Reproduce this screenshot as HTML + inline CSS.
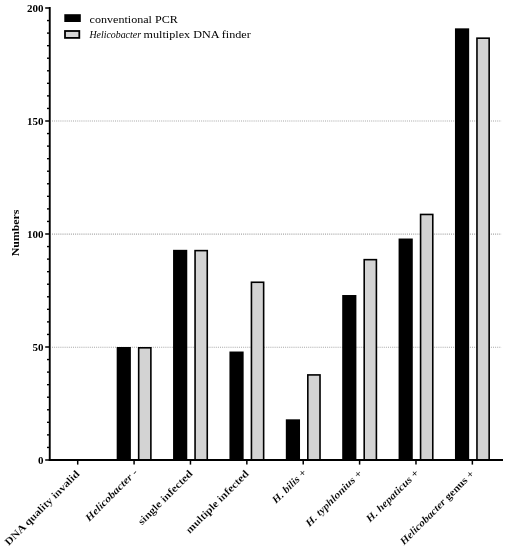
<!DOCTYPE html>
<html><head><meta charset="utf-8"><style>
html,body{margin:0;padding:0;background:#fff;width:509px;height:550px;overflow:hidden}
svg{display:block}
text{font-family:"Liberation Serif",serif;fill:#000}
.b{font-weight:bold;font-size:11px}
.l{font-size:11px}
.xl{font-weight:bold;font-size:10.4px;stroke:#fff;stroke-width:0.1px}
</style></head><body>
<svg width="509" height="550" viewBox="0 0 509 550">
<rect width="509" height="550" fill="#fff"/>
<line x1="52" y1="347.20" x2="501.5" y2="347.20" stroke="#a6a6a6" stroke-width="1.1" stroke-dasharray="1 1.1"/>
<line x1="52" y1="234.10" x2="501.5" y2="234.10" stroke="#a6a6a6" stroke-width="1.1" stroke-dasharray="1 1.1"/>
<line x1="52" y1="120.95" x2="501.5" y2="120.95" stroke="#a6a6a6" stroke-width="1.1" stroke-dasharray="1 1.1"/>
<rect x="116.68" y="347.00" width="14.20" height="113.00" fill="#000"/>
<rect x="138.68" y="347.80" width="12.20" height="112.20" fill="#d3d3d3" stroke="#000" stroke-width="1.6"/>
<rect x="173.06" y="249.82" width="14.20" height="210.18" fill="#000"/>
<rect x="195.06" y="250.62" width="12.20" height="209.38" fill="#d3d3d3" stroke="#000" stroke-width="1.6"/>
<rect x="229.44" y="351.52" width="14.20" height="108.48" fill="#000"/>
<rect x="251.44" y="282.26" width="12.20" height="177.74" fill="#d3d3d3" stroke="#000" stroke-width="1.6"/>
<rect x="285.82" y="419.32" width="14.20" height="40.68" fill="#000"/>
<rect x="307.82" y="374.92" width="12.20" height="85.08" fill="#d3d3d3" stroke="#000" stroke-width="1.6"/>
<rect x="342.20" y="295.02" width="14.20" height="164.98" fill="#000"/>
<rect x="364.20" y="259.66" width="12.20" height="200.34" fill="#d3d3d3" stroke="#000" stroke-width="1.6"/>
<rect x="398.58" y="238.52" width="14.20" height="221.48" fill="#000"/>
<rect x="420.58" y="214.46" width="12.20" height="245.54" fill="#d3d3d3" stroke="#000" stroke-width="1.6"/>
<rect x="454.96" y="28.34" width="14.20" height="431.66" fill="#000"/>
<rect x="476.96" y="38.18" width="12.20" height="421.82" fill="#d3d3d3" stroke="#000" stroke-width="1.6"/>
<line x1="49.75" y1="7.10" x2="49.75" y2="460.95" stroke="#000" stroke-width="1.9"/>
<line x1="48.80" y1="460.00" x2="503" y2="460.00" stroke="#000" stroke-width="1.9"/>
<line x1="45.2" y1="8.00" x2="49.75" y2="8.00" stroke="#000" stroke-width="1.5"/>
<line x1="47.0" y1="20.56" x2="49.75" y2="20.56" stroke="#000" stroke-width="1.4"/>
<line x1="47.0" y1="33.11" x2="49.75" y2="33.11" stroke="#000" stroke-width="1.4"/>
<line x1="47.0" y1="45.67" x2="49.75" y2="45.67" stroke="#000" stroke-width="1.4"/>
<line x1="47.0" y1="58.22" x2="49.75" y2="58.22" stroke="#000" stroke-width="1.4"/>
<line x1="47.0" y1="70.78" x2="49.75" y2="70.78" stroke="#000" stroke-width="1.4"/>
<line x1="47.0" y1="83.33" x2="49.75" y2="83.33" stroke="#000" stroke-width="1.4"/>
<line x1="47.0" y1="95.89" x2="49.75" y2="95.89" stroke="#000" stroke-width="1.4"/>
<line x1="47.0" y1="108.44" x2="49.75" y2="108.44" stroke="#000" stroke-width="1.4"/>
<line x1="45.2" y1="121.00" x2="49.75" y2="121.00" stroke="#000" stroke-width="1.5"/>
<line x1="47.0" y1="133.56" x2="49.75" y2="133.56" stroke="#000" stroke-width="1.4"/>
<line x1="47.0" y1="146.11" x2="49.75" y2="146.11" stroke="#000" stroke-width="1.4"/>
<line x1="47.0" y1="158.67" x2="49.75" y2="158.67" stroke="#000" stroke-width="1.4"/>
<line x1="47.0" y1="171.22" x2="49.75" y2="171.22" stroke="#000" stroke-width="1.4"/>
<line x1="47.0" y1="183.78" x2="49.75" y2="183.78" stroke="#000" stroke-width="1.4"/>
<line x1="47.0" y1="196.33" x2="49.75" y2="196.33" stroke="#000" stroke-width="1.4"/>
<line x1="47.0" y1="208.89" x2="49.75" y2="208.89" stroke="#000" stroke-width="1.4"/>
<line x1="47.0" y1="221.44" x2="49.75" y2="221.44" stroke="#000" stroke-width="1.4"/>
<line x1="45.2" y1="234.00" x2="49.75" y2="234.00" stroke="#000" stroke-width="1.5"/>
<line x1="47.0" y1="246.56" x2="49.75" y2="246.56" stroke="#000" stroke-width="1.4"/>
<line x1="47.0" y1="259.11" x2="49.75" y2="259.11" stroke="#000" stroke-width="1.4"/>
<line x1="47.0" y1="271.67" x2="49.75" y2="271.67" stroke="#000" stroke-width="1.4"/>
<line x1="47.0" y1="284.22" x2="49.75" y2="284.22" stroke="#000" stroke-width="1.4"/>
<line x1="47.0" y1="296.78" x2="49.75" y2="296.78" stroke="#000" stroke-width="1.4"/>
<line x1="47.0" y1="309.33" x2="49.75" y2="309.33" stroke="#000" stroke-width="1.4"/>
<line x1="47.0" y1="321.89" x2="49.75" y2="321.89" stroke="#000" stroke-width="1.4"/>
<line x1="47.0" y1="334.44" x2="49.75" y2="334.44" stroke="#000" stroke-width="1.4"/>
<line x1="45.2" y1="347.00" x2="49.75" y2="347.00" stroke="#000" stroke-width="1.5"/>
<line x1="47.0" y1="359.56" x2="49.75" y2="359.56" stroke="#000" stroke-width="1.4"/>
<line x1="47.0" y1="372.11" x2="49.75" y2="372.11" stroke="#000" stroke-width="1.4"/>
<line x1="47.0" y1="384.67" x2="49.75" y2="384.67" stroke="#000" stroke-width="1.4"/>
<line x1="47.0" y1="397.22" x2="49.75" y2="397.22" stroke="#000" stroke-width="1.4"/>
<line x1="47.0" y1="409.78" x2="49.75" y2="409.78" stroke="#000" stroke-width="1.4"/>
<line x1="47.0" y1="422.33" x2="49.75" y2="422.33" stroke="#000" stroke-width="1.4"/>
<line x1="47.0" y1="434.89" x2="49.75" y2="434.89" stroke="#000" stroke-width="1.4"/>
<line x1="47.0" y1="447.44" x2="49.75" y2="447.44" stroke="#000" stroke-width="1.4"/>
<line x1="45.2" y1="460.00" x2="49.75" y2="460.00" stroke="#000" stroke-width="1.5"/>
<line x1="77.70" y1="460.00" x2="77.70" y2="464.6" stroke="#000" stroke-width="1.5"/>
<line x1="134.08" y1="460.00" x2="134.08" y2="464.6" stroke="#000" stroke-width="1.5"/>
<line x1="190.46" y1="460.00" x2="190.46" y2="464.6" stroke="#000" stroke-width="1.5"/>
<line x1="246.84" y1="460.00" x2="246.84" y2="464.6" stroke="#000" stroke-width="1.5"/>
<line x1="303.22" y1="460.00" x2="303.22" y2="464.6" stroke="#000" stroke-width="1.5"/>
<line x1="359.60" y1="460.00" x2="359.60" y2="464.6" stroke="#000" stroke-width="1.5"/>
<line x1="415.98" y1="460.00" x2="415.98" y2="464.6" stroke="#000" stroke-width="1.5"/>
<line x1="472.36" y1="460.00" x2="472.36" y2="464.6" stroke="#000" stroke-width="1.5"/>
<text x="43.6" y="463.80" text-anchor="end" class="b">0</text>
<text x="43.6" y="350.80" text-anchor="end" class="b">50</text>
<text x="43.6" y="237.80" text-anchor="end" class="b">100</text>
<text x="43.6" y="124.80" text-anchor="end" class="b">150</text>
<text x="43.6" y="11.80" text-anchor="end" class="b">200</text>
<text transform="translate(18.9,232.9) rotate(-90)" text-anchor="middle" class="b" style="font-size:10.8px" textLength="46.6" lengthAdjust="spacingAndGlyphs">Numbers</text>
<text transform="translate(80.05,474.65) rotate(-45)" text-anchor="end" class="xl" textLength="101.00" lengthAdjust="spacingAndGlyphs">DNA quality invalid</text>
<text transform="translate(138.06,473.02) rotate(-45)" text-anchor="end" class="xl" textLength="69.10" lengthAdjust="spacingAndGlyphs"><tspan font-style="italic">Helicobacter</tspan> -</text>
<text transform="translate(193.10,474.36) rotate(-45)" text-anchor="end" class="xl" textLength="72.20" lengthAdjust="spacingAndGlyphs">single infected</text>
<text transform="translate(249.33,474.51) rotate(-45)" text-anchor="end" class="xl" textLength="84.10" lengthAdjust="spacingAndGlyphs">multiple infected</text>
<text transform="translate(306.99,473.23) rotate(-45)" text-anchor="end" class="xl" textLength="43.70" lengthAdjust="spacingAndGlyphs"><tspan font-style="italic">H. bilis</tspan> +</text>
<text transform="translate(362.66,473.94) rotate(-45)" text-anchor="end" class="xl" textLength="75.30" lengthAdjust="spacingAndGlyphs"><tspan font-style="italic">H. typhlonius</tspan> +</text>
<text transform="translate(419.46,473.52) rotate(-45)" text-anchor="end" class="xl" textLength="69.80" lengthAdjust="spacingAndGlyphs"><tspan font-style="italic">H. hepaticus</tspan> +</text>
<text transform="translate(474.85,474.51) rotate(-45)" text-anchor="end" class="xl" textLength="100.30" lengthAdjust="spacingAndGlyphs"><tspan font-style="italic">Helicobacter</tspan> genus +</text>
<rect x="64.3" y="14.2" width="16.5" height="7.8" fill="#000"/>
<rect x="65.0" y="31.0" width="14.3" height="6.9" fill="#d6d6d6" stroke="#000" stroke-width="1.8"/>
<text x="89.6" y="23.0" class="l" textLength="88.2" lengthAdjust="spacingAndGlyphs">conventional PCR</text>
<text x="89.4" y="38.0" class="l" font-style="italic" textLength="51.6" lengthAdjust="spacingAndGlyphs">Helicobacter</text>
<text x="143.6" y="38.0" class="l" textLength="107.2" lengthAdjust="spacingAndGlyphs">multiplex DNA finder</text>
</svg>
</body></html>
